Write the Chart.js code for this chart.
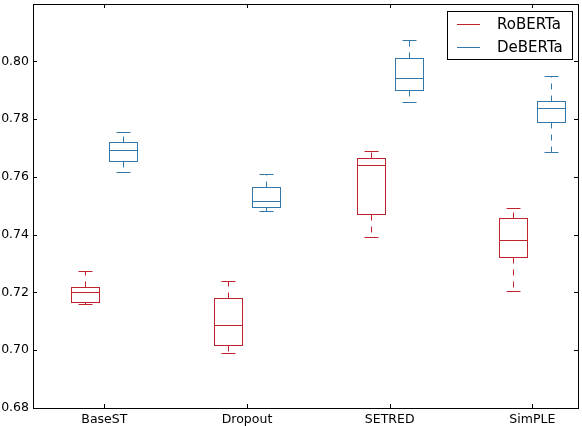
<!DOCTYPE html>
<html>
<head>
<meta charset="utf-8">
<script src="https://cdn.jsdelivr.net/npm/chart.js@4"></script>
<style>
  html, body { margin: 0; padding: 0; background: #fff; }
  #wrap { width: 582px; height: 426px; }
</style>
</head>
<body>
<div id="wrap"><canvas id="chartBox" width="582" height="426"></canvas></div>
<script>
const categories = ['BaseST', 'Dropout', 'SETRED', 'SimPLE'];
// [lower whisker, Q1, median, Q3, upper whisker]
const roberta = [
  [0.7159, 0.7166, 0.7202, 0.7218, 0.7274],
  [0.6990, 0.7017, 0.7087, 0.7180, 0.7239],
  [0.7393, 0.7471, 0.7643, 0.7665, 0.7689],
  [0.7205, 0.7322, 0.7381, 0.7457, 0.7492]
];
const deberta = [
  [0.7617, 0.7655, 0.7693, 0.7721, 0.7755],
  [0.7482, 0.7495, 0.7516, 0.7567, 0.7610],
  [0.7859, 0.7902, 0.7942, 0.8012, 0.8074],
  [0.7686, 0.7790, 0.7840, 0.7864, 0.7949]
];
const yTicks = [0.68, 0.70, 0.72, 0.74, 0.76, 0.78, 0.80];

const RED = 'rgb(190, 36, 46)';
const BLUE = 'rgb(52, 120, 170)';
const BOX_HALF = 0.098;   // half box width, x units
const CAP_HALF = 0.049;
const FONT = 'DejaVu Sans';

const px = v => Math.round(v) + 0.5;

const boxPlot = {
  id: 'boxPlot',
  afterDatasetsDraw(chart) {
    const {ctx, chartArea: a, scales: {x, y}} = chart;
    ctx.save();
    ctx.beginPath();
    ctx.rect(a.left, a.top, a.right - a.left, a.bottom - a.top);
    ctx.clip();
    ctx.lineWidth = 1;
    chart.data.datasets.forEach(ds => {
      ctx.strokeStyle = ds.borderColor;
      ds.stats.forEach((s, i) => {
        const pos = i + 1 + ds.offset;
        const cx = px(x.getPixelForValue(pos));
        const l = px(x.getPixelForValue(pos - BOX_HALF));
        const r = px(x.getPixelForValue(pos + BOX_HALF));
        const cl = px(x.getPixelForValue(pos - CAP_HALF));
        const cr = px(x.getPixelForValue(pos + CAP_HALF));
        const [lo, q1, med, q3, hi] = s.map(v => px(y.getPixelForValue(v)));
        // box + median + caps
        ctx.setLineDash([]);
        ctx.strokeRect(l, q3, r - l, q1 - q3);
        ctx.beginPath();
        ctx.moveTo(l, med); ctx.lineTo(r, med);
        ctx.moveTo(cl, lo); ctx.lineTo(cr, lo);
        ctx.moveTo(cl, hi); ctx.lineTo(cr, hi);
        ctx.stroke();
        // dashed whiskers
        ctx.setLineDash([6, 6]);
        ctx.beginPath();
        ctx.moveTo(cx, q1); ctx.lineTo(cx, lo);
        ctx.stroke();
        ctx.beginPath();
        ctx.moveTo(cx, q3); ctx.lineTo(cx, hi);
        ctx.stroke();
      });
    });
    ctx.restore();
  },
  afterDraw(chart) {
    const {ctx, chartArea: a, scales: {x, y}} = chart;
    ctx.save();
    ctx.strokeStyle = '#000';
    ctx.lineWidth = 1;
    ctx.setLineDash([]);
    // frame
    ctx.strokeRect(px(a.left), px(a.top), Math.round(a.right - a.left), Math.round(a.bottom - a.top));
    // inward ticks on all four sides
    ctx.beginPath();
    yTicks.forEach(v => {
      const ty = px(y.getPixelForValue(v));
      ctx.moveTo(a.left, ty); ctx.lineTo(a.left + 4, ty);
      ctx.moveTo(a.right, ty); ctx.lineTo(a.right - 4, ty);
    });
    categories.forEach((c, i) => {
      const tx = px(x.getPixelForValue(i + 1));
      ctx.moveTo(tx, a.bottom); ctx.lineTo(tx, a.bottom - 4);
      ctx.moveTo(tx, a.top); ctx.lineTo(tx, a.top + 4);
    });
    ctx.stroke();

    // legend
    const lx = Math.round(a.right) - 131, ly = Math.round(a.top) + 7;
    ctx.fillStyle = '#fff';
    ctx.fillRect(lx, ly, 125, 48);
    ctx.strokeRect(lx + 0.5, ly + 0.5, 125, 48);
    ctx.font = '15px "' + FONT + '"';
    ctx.textBaseline = 'middle';
    chart.data.datasets.forEach((ds, i) => {
      const rowY = ly + 13 + i * 23;
      ctx.strokeStyle = ds.borderColor;
      ctx.beginPath();
      ctx.moveTo(lx + 10, rowY + 0.5); ctx.lineTo(lx + 33, rowY + 0.5);
      ctx.stroke();
      ctx.fillStyle = '#000';
      ctx.fillText(ds.label, lx + 50, rowY + 1);
    });
    ctx.restore();
  }
};

new Chart(document.getElementById('chartBox'), {
  type: 'scatter',
  data: {
    datasets: [{
      label: 'RoBERTa',
      stats: roberta,
      offset: -0.133,
      data: roberta.map((s, i) => ({x: i + 1 - 0.133, y: s[2]})),
      borderColor: RED,
      backgroundColor: RED,
      pointRadius: 0
    }, {
      label: 'DeBERTa',
      stats: deberta,
      offset: 0.133,
      data: deberta.map((s, i) => ({x: i + 1 + 0.133, y: s[2]})),
      borderColor: BLUE,
      backgroundColor: BLUE,
      pointRadius: 0
    }]
  },
  options: {
    responsive: false,
    animation: false,
    layout: { padding: { top: 4, right: 4, left: 0, bottom: 0 } },
    plugins: {
      legend: { display: false },
      tooltip: { enabled: true }
    },
    scales: {
      x: {
        type: 'linear',
        min: 0.5,
        max: 4.32,
        afterBuildTicks: s => { s.ticks = categories.map((c, i) => ({value: i + 1})); },
        afterFit: s => { s.height = 18; s.paddingLeft = 0; s.paddingRight = 0; },
        grid: { display: false, drawTicks: false },
        border: { display: false },
        ticks: {
          callback: v => categories[v - 1],
          color: '#000',
          padding: 4,
          maxRotation: 0,
          font: { family: FONT, size: 12.5 }
        }
      },
      y: {
        min: 0.68,
        max: 0.8199,
        afterBuildTicks: s => { s.ticks = yTicks.map(v => ({value: v})); },
        afterFit: s => { s.width = 33; s.paddingTop = 0; s.paddingBottom = 0; },
        grid: { display: false, drawTicks: false },
        border: { display: false },
        ticks: {
          callback: v => v.toFixed(2),
          color: '#000',
          padding: 4,
          font: { family: FONT, size: 12.5 }
        }
      }
    }
  },
  plugins: [boxPlot]
});
</script>
</body>
</html>
